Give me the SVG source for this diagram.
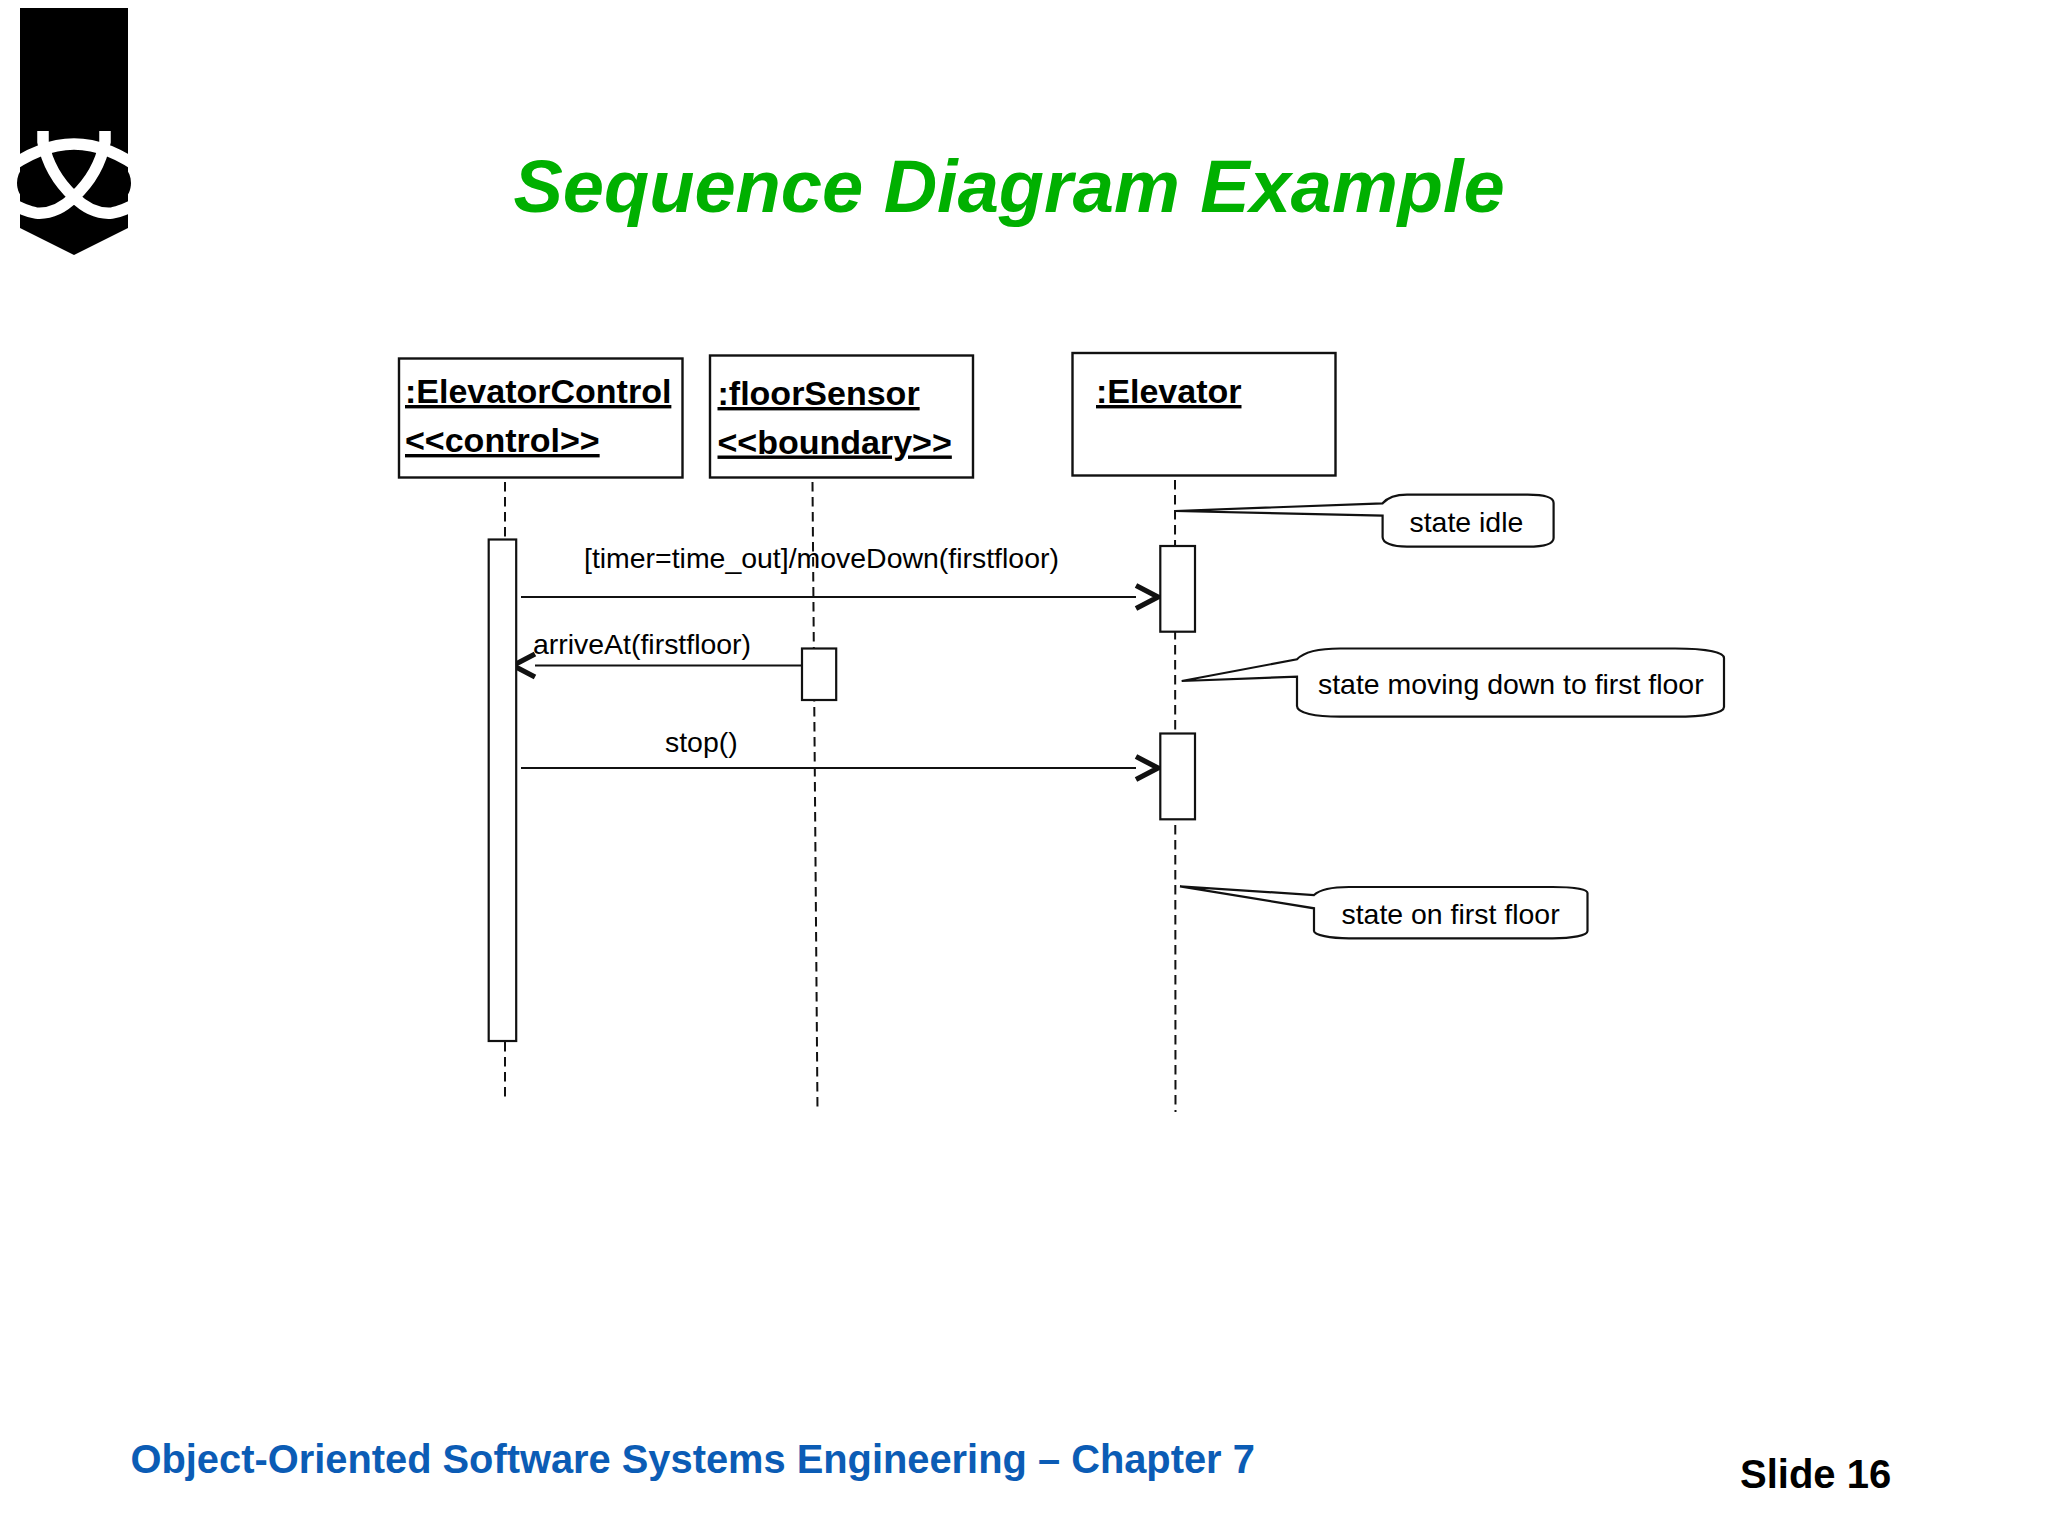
<svg xmlns="http://www.w3.org/2000/svg" width="2048" height="1536" viewBox="0 0 2048 1536">
<style>
text{font-family:"Liberation Sans",Arial,sans-serif;fill:#000}
.h{font-weight:bold;font-size:34px;text-decoration:underline}
.m{font-size:28.45px}
.b{fill:#fff;stroke:#111;stroke-width:2.4}
.a{fill:#fff;stroke:#111;stroke-width:2.2}
.l{fill:none;stroke:#111;stroke-width:2;stroke-dasharray:9.5 5.5}
.c{fill:none;stroke:#111;stroke-width:2}
.w{fill:none;stroke:#fff;stroke-width:11.5}
</style>
<defs>
<marker id="open" markerUnits="userSpaceOnUse" markerWidth="30" markerHeight="30" refX="0" refY="12" orient="auto" overflow="visible"><path d="M0 .5L22 12L0 23.5" fill="none" stroke="#111" stroke-width="5.2"/></marker>
</defs>
<rect width="2048" height="1536" fill="#fff"/>
<g id="logo">
<path d="M20 8H128V228L74 255L20 228Z" fill="#000"/>
<path d="M42 154C26 160 17 171 17 183C17 197 29 207 43 207C52 207 60 203 66 198Z" fill="#000"/>
<path d="M106 154C122 160 131 171 131 183C131 197 119 207 105 207C96 207 88 203 82 198Z" fill="#000"/>
<path class="w" d="M3 172C28 153 50 144 74 144C98 144 120 153 145 172"/>
<path class="w" d="M43 131V142C48 168 60 184 74 197C86 209 100 214 112 213C120 212 128 208 140 202"/>
<path class="w" d="M105 131V142C100 168 88 184 74 197C62 209 48 214 36 213C28 212 20 208 8 202"/>
</g>
<text id="title" x="513.5" y="211.5" font-size="74" font-weight="bold" font-style="italic" style="fill:#00b000">Sequence Diagram Example</text>
<g id="connectors">
<path class="l" d="M505 482V538M505 1042V1102"/>
<path class="l" d="M812.5 482L817.5 1111"/>
<path class="l" d="M1175 480L1175.5 1112"/>
<path class="c" d="M521 597H1136" marker-end="url(#open)"/>
<path class="c" d="M802 665.5H535" marker-end="url(#open)"/>
<path class="c" d="M521 768H1136" marker-end="url(#open)"/>
</g>
<g id="node-elevatorcontrol">
<rect class="b" x="399" y="358.5" width="283.5" height="119"/>
<text class="h" x="405" y="403">:ElevatorControl</text>
<text class="h" x="405" y="452">&lt;&lt;control&gt;&gt;</text>
</g>
<g id="node-floorsensor">
<rect class="b" x="710" y="355.5" width="263" height="122"/>
<text class="h" x="717.5" y="405">:floorSensor</text>
<text class="h" x="717.5" y="453.5">&lt;&lt;boundary&gt;&gt;</text>
</g>
<g id="node-elevator">
<rect class="b" x="1072.5" y="353" width="263" height="122.5"/>
<text class="h" x="1096" y="403">:Elevator</text>
</g>
<g id="activations">
<rect class="a" x="488.7" y="539.5" width="27.5" height="501.5"/>
<rect class="a" x="802" y="648.5" width="34.2" height="51.5"/>
<rect class="a" x="1160.3" y="546" width="34.7" height="85.7"/>
<rect class="a" x="1160.3" y="733.5" width="34.7" height="85.8"/>
</g>
<g id="labels">
<text class="m" x="584" y="568">[timer=time_out]/moveDown(firstfloor)</text>
<text class="m" x="533" y="653.5">arriveAt(firstfloor)</text>
<text class="m" x="665" y="752">stop()</text>
</g>
<g id="note-idle">
<path class="a" d="M1175 511L1382.6 503.3C1388 497 1396 494.6 1407 494.6H1527.7C1543 494.6 1553.6 497 1553.6 503V538C1553.6 544 1543 546.7 1527.7 546.7H1407C1392 546.7 1382.6 543 1382.6 537V515.7Z"/>
<text class="m" x="1409.5" y="531.7">state idle</text>
</g>
<g id="note-moving">
<path class="a" d="M1181.7 681L1297 659.3C1304 652 1320 648.5 1340 648.5H1675C1705 648.5 1724 652 1724 658V707C1724 713 1705 716.7 1675 716.7H1340C1315 716.7 1297 713 1297 706V676.7Z"/>
<text class="m" x="1318" y="694">state moving down to first floor</text>
</g>
<g id="note-floor">
<path class="a" d="M1180 886.3L1314 895C1320 889.5 1332 887 1349 887H1552.5C1572 887 1587.5 889 1587.5 893V931C1587.5 935.5 1572 938.3 1552.5 938.3H1349C1330 938.3 1314 935 1314 931V908.3Z"/>
<text class="m" x="1341.5" y="924">state on first floor</text>
</g>
<text id="footer" x="130.5" y="1473" font-size="39.85" font-weight="bold" style="fill:#0b5cb5">Object-Oriented Software Systems Engineering – Chapter 7</text>
<text id="slide" x="1740" y="1487.5" font-size="40" font-weight="bold">Slide 16</text>
</svg>
